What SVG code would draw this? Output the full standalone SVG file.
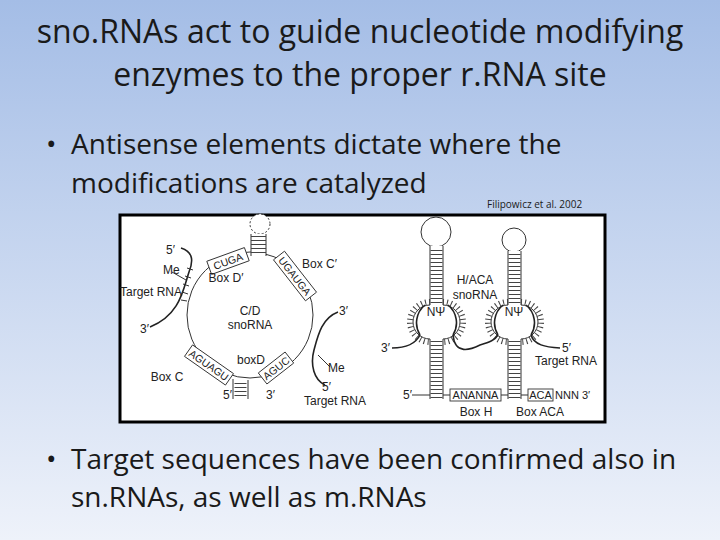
<svg xmlns="http://www.w3.org/2000/svg" width="720" height="540" viewBox="0 0 720 540">
<defs>
<linearGradient id="bg" x1="0" y1="0" x2="0" y2="1"><stop offset="0" stop-color="#a4bde6"/><stop offset="1" stop-color="#eef2fa"/></linearGradient>
<style>
.t{font-family:"Open Sans","Liberation Sans",sans-serif;fill:#1a1a1a}
.f{font-family:"Liberation Sans",Arial,sans-serif;font-size:12px;fill:#222}
.bt{font-family:"Liberation Sans",Arial,sans-serif;font-size:10.5px;fill:#222}
.l{fill:none;stroke:#333;stroke-width:1}
.s{fill:none;stroke:#222;stroke-width:1.6}
.b{fill:#fff;stroke:#333;stroke-width:0.9}
</style>
</defs>
<rect width="720" height="540" fill="url(#bg)"/>
<g id="title" class="t" font-size="32" text-anchor="middle">
<text x="360" y="43">sno.RNAs act to guide nucleotide modifying</text>
<text x="360" y="86">enzymes to the proper r.RNA site</text>
</g>
<g id="bullet1" class="t" font-size="28">
<text x="46" y="154">•</text><text x="71" y="154">Antisense elements dictate where the</text>
<text x="71" y="193">modifications are catalyzed</text>
<text x="487" y="208" font-size="10">Filipowicz et al. 2002</text>
</g>
<rect x="120" y="215" width="485" height="207" fill="#fff" stroke="#000" stroke-width="3"/>
<g id="cd">
<circle cx="250" cy="315" r="63" class="l"/>
<circle cx="260" cy="224" r="10" fill="#fff" stroke="#333" stroke-dasharray="2 2"/>
<rect x="251" y="234" width="15" height="24" fill="#fff"/>
<line x1="251" y1="234" x2="251" y2="256" class="l"/><line x1="266" y1="234" x2="266" y2="256" class="l"/>
<line x1="258.5" y1="236" x2="258.5" y2="256" stroke="#444" stroke-width="15" stroke-dasharray="1 3"/>
<g transform="rotate(-20 228 261)"><rect x="208" y="254" width="40" height="14" class="b"/><text x="228" y="265" class="bt" text-anchor="middle">CUGA</text></g>
<g transform="rotate(52 295 276)"><rect x="269" y="269" width="52" height="14" class="b"/><text x="295" y="280" class="bt" text-anchor="middle">UGAUGA</text></g>
<g transform="rotate(35 209 365)"><rect x="184" y="358" width="50" height="14" class="b"/><text x="209" y="369" class="bt" text-anchor="middle">AGUAGU</text></g>
<g transform="rotate(-38 276 368)"><rect x="259" y="361" width="34" height="14" class="b"/><text x="276" y="372" class="bt" text-anchor="middle">AGUC</text></g>
<rect x="233" y="379" width="15" height="20" fill="#fff"/>
<line x1="240.5" y1="383" x2="240.5" y2="398" stroke="#444" stroke-width="12" stroke-dasharray="1 3"/>
<path d="M233,379 V399 M248,380 V399" class="l"/>
<path d="M181,248 C194,252 193,262 189,272 C183,290 180,315 150,327" class="s"/>
<path d="M187,268 L193,270 M185,276 L191,278 M183,284 L189,286 M182,292 L188,294 M181,300 L187,301" class="l"/>
<path d="M338,312 C322,318 318,335 314,350 C310,365 314,380 325,385" class="s"/>
<path d="M172,272 L186,280 M318,355 L330,367" class="l"/>
<g class="f">
<text x="166" y="254">5′</text><text x="163" y="274">Me</text><text x="120" y="296">Target RNA</text><text x="140" y="333">3′</text>
<text x="302" y="268">Box C′</text><text x="226" y="282" text-anchor="middle">Box D′</text>
<text x="250" y="315" text-anchor="middle">C/D</text><text x="250" y="329" text-anchor="middle">snoRNA</text>
<text x="251" y="364" text-anchor="middle">boxD</text><text x="167" y="381" text-anchor="middle">Box C</text>
<text x="223" y="399">5′</text><text x="266" y="399">3′</text>
<text x="339" y="315">3′</text><text x="328" y="372">Me</text><text x="322" y="391">5′</text><text x="304" y="405">Target RNA</text>
</g>
</g>
<g id="haca">
<circle cx="436" cy="232" r="15" class="l"/>
<circle cx="514" cy="240" r="12" class="l"/>
<rect x="430" y="246" width="13" height="58" fill="#fff"/>
<rect x="508" y="251" width="13" height="53" fill="#fff"/>
<path d="M430,246 V305 M443,246 V305 M430,339 V399 M443,339 V399 M508,251 V305 M521,251 V305 M508,339 V399 M521,339 V399" class="l"/>
<path d="M436.5,250 V304 M436.5,341 V398 M514.5,254 V304 M514.5,341 V398" stroke="#444" stroke-width="12" stroke-dasharray="1 3"/>
<path d="M430,305 A17,17 0 0 0 430,339 M443,305 A17,17 0 0 1 443,339 M508,305 A17,17 0 0 0 508,339 M521,305 A17,17 0 0 1 521,339" class="l"/>
<path d="M430,302 A20,20 0 0 0 430,342 M443,302 A20,20 0 0 1 443,342 M508,302 A20,20 0 0 0 508,342 M521,302 A20,20 0 0 1 521,342" stroke="#444" stroke-width="6" fill="none" stroke-dasharray="1 3"/>
<path d="M425,305 A23,23 0 0 0 420,335 M448,305 A23,23 0 0 1 453,335 M503,305 A23,23 0 0 0 498,335 M526,305 A23,23 0 0 1 531,335" class="s"/>
<path d="M392,348 C405,348 415,345 420,335 M453,335 C455,355 470,350 480,345 C490,342 495,340 498,335 M531,335 C534,345 545,347 560,348" class="s"/>
<path d="M412,395 H430 M443,395 H450 M501,395 H508 M521,395 H528" class="l"/>
<rect x="450" y="389" width="51" height="12" class="b"/><rect x="528" y="389" width="25" height="12" class="b"/>
<g class="f">
<text x="436" y="316" text-anchor="middle">NΨ</text><text x="514" y="316" text-anchor="middle">NΨ</text>
<text x="475" y="284" text-anchor="middle">H/ACA</text><text x="475" y="299" text-anchor="middle">snoRNA</text>
<text x="381" y="352">3′</text><text x="562" y="352">5′</text><text x="566" y="365" text-anchor="middle">Target RNA</text>
<text x="403" y="399">5′</text><text x="475.5" y="399" text-anchor="middle" font-size="11">ANANNA</text><text x="540.5" y="399" text-anchor="middle" font-size="11">ACA</text>
<text x="555" y="399" font-size="11">NNN 3′</text><text x="476" y="416" text-anchor="middle">Box H</text><text x="540" y="416" text-anchor="middle">Box ACA</text>
</g>
</g>
<g id="bullet2" class="t" font-size="28">
<text x="46" y="469">•</text><text x="71" y="469">Target sequences have been confirmed also in</text>
<text x="71" y="507">sn.RNAs, as well as m.RNAs</text>
</g>
</svg>
